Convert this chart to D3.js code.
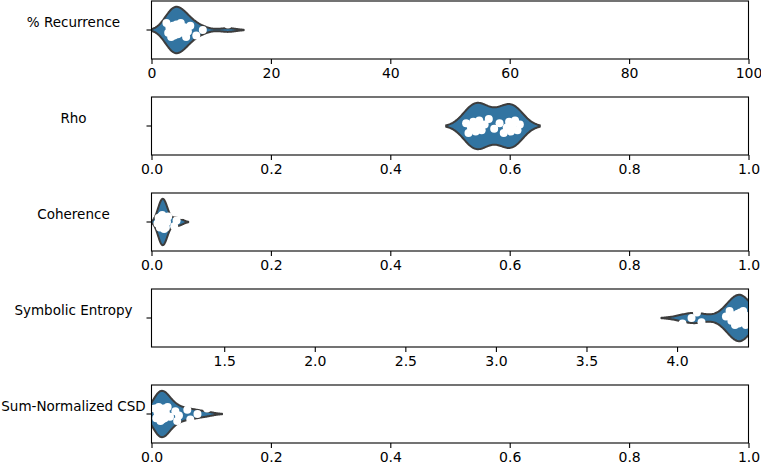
<!DOCTYPE html>
<html>
<head>
<meta charset="utf-8">
<script src="https://cdn.jsdelivr.net/npm/d3@7"></script>
<style>
  html, body { margin: 0; padding: 0; background: #fff; }
  text { font-family: "DejaVu Sans", sans-serif; fill: #000; }
</style>
</head>
<body>
<div id="chart"></div>
<script>
// metric names (one panel each)
var metrics = ["% Recurrence", "Rho", "Coherence", "Symbolic Entropy", "Sum-Normalized CSD"];

// per-subject values
var recurrence = [2.5, 2.8, 3.0, 3.3, 3.5, 3.6, 3.8, 4.0, 4.2, 4.4, 4.6, 4.9, 5.2, 5.5, 5.8, 6.1, 6.5, 7.5, 8.6, 12.8];
var rho = [0.527, 0.531, 0.535, 0.539, 0.543, 0.546, 0.549, 0.553, 0.558, 0.565, 0.574, 0.583, 0.590, 0.595, 0.599, 0.602, 0.605, 0.609, 0.613, 0.617];
var coherence = [0.010, 0.012, 0.014, 0.015, 0.016, 0.017, 0.018, 0.018, 0.019, 0.020, 0.021, 0.022, 0.023, 0.024, 0.026, 0.028, 0.038, 0.042, 0.050];
var symEntropy = [4.03, 4.08, 4.11, 4.135, 4.27, 4.29, 4.30, 4.31, 4.32, 4.33, 4.335, 4.34, 4.345, 4.35, 4.355, 4.36, 4.365, 4.37, 4.375, 4.38, 4.385];
var csd = [0.005, 0.008, 0.010, 0.012, 0.013, 0.014, 0.015, 0.016, 0.017, 0.018, 0.019, 0.020, 0.022, 0.024, 0.027, 0.031, 0.040, 0.043, 0.046, 0.060, 0.065, 0.077, 0.093];

// axis limits and ticks
var domains = [[0, 100], [0, 1], [0, 1], [Math.log(3), Math.log(81)], [0, 1]];
var ticks = [
    [0, 20, 40, 60, 80, 100],
    [0, 0.2, 0.4, 0.6, 0.8, 1.0],
    [0, 0.2, 0.4, 0.6, 0.8, 1.0],
    [1.5, 2.0, 2.5, 3.0, 3.5, 4.0],
    [0, 0.2, 0.4, 0.6, 0.8, 1.0]
];
var tickFormats = [d3.format("d"), d3.format(".1f"), d3.format(".1f"), d3.format(".1f"), d3.format(".1f")];
var series = [recurrence, rho, coherence, symEntropy, csd];

var W = 761, H = 465;
var left = 151.5, pw = 597, ph = 58;
var tops = [1, 97, 193, 289, 385];
var fill = "#3274a1", edge = "#3d3d3d";

var svg = d3.select("#chart").append("svg")
    .attr("width", W)
    .attr("height", H);

function kde(values) {
    var n = values.length,
        sd = d3.deviation(values),
        bw = sd * Math.pow(n, -0.2),
        lo = d3.min(values) - 2 * bw,
        hi = d3.max(values) + 2 * bw,
        pts = [];
    for (var i = 0; i < 100; i++) {
        var x = lo + (hi - lo) * i / 99, s = 0;
        values.forEach(function (v) {
            var u = (x - v) / bw;
            s += Math.exp(-0.5 * u * u);
        });
        pts.push([x, s / (n * bw * Math.sqrt(2 * Math.PI))]);
    }
    return pts;
}

metrics.forEach(function (name, k) {
    var top = tops[k];
    var g = svg.append("g").attr("transform", "translate(" + left + "," + top + ")");

    var x = d3.scaleLinear().domain(domains[k]).range([0, pw]);
    // category axis: one violin centred at 0, span [-0.5, 0.5]
    var y = d3.scaleLinear().domain([-0.5, 0.5]).range([0, ph]);

    g.append("clipPath").attr("id", "clip" + k)
        .append("rect").attr("width", pw).attr("height", ph);

    var plot = g.append("g").attr("clip-path", "url(#clip" + k + ")");

    var dens = kde(series[k]);
    var dmax = d3.max(dens, function (d) { return d[1]; });
    var area = d3.area()
        .x(function (d) { return x(d[0]); })
        .y0(function (d) { return y(-0.4 * d[1] / dmax); })
        .y1(function (d) { return y(0.4 * d[1] / dmax); });

    plot.append("path")
        .datum(dens)
        .attr("d", area)
        .attr("fill", fill)
        .attr("stroke", edge)
        .attr("stroke-width", 2)
        .attr("stroke-linejoin", "round");

    // strip points, fixed jitter pattern
    plot.selectAll("circle")
        .data(series[k])
        .enter().append("circle")
        .attr("cx", function (d) { return x(d); })
        .attr("cy", function (d, i) { return y(((i * 7 + k * 3) % 11 / 10 * 2 - 1) * 0.12); })
        .attr("r", 4)
        .attr("fill", "#fff");

    // frame
    g.append("rect")
        .attr("width", pw).attr("height", ph)
        .attr("fill", "none")
        .attr("stroke", "#000")
        .attr("stroke-width", 1.1);

    var xAxis = d3.axisBottom(x)
        .tickValues(ticks[k])
        .tickFormat(tickFormats[k])
        .tickSize(5)
        .tickPadding(4);
    var ax = g.append("g")
        .attr("transform", "translate(0," + ph + ")")
        .call(xAxis);
    ax.select(".domain").remove();
    ax.selectAll("line").attr("stroke", "#000").attr("stroke-width", 1.1);
    ax.selectAll("text")
        .style("font-family", "DejaVu Sans, sans-serif")
        .style("font-size", "14px")
        .attr("fill", "#000");

    // single empty y tick
    g.append("line")
        .attr("x1", -5).attr("x2", 0)
        .attr("y1", y(0)).attr("y2", y(0))
        .attr("stroke", "#000").attr("stroke-width", 1.1);

    svg.append("text")
        .attr("x", 73.5)
        .attr("y", top + y(0) - 3)
        .attr("text-anchor", "middle")
        .style("font-size", "13.5px")
        .text(name);
});
</script>
</body>
</html>
